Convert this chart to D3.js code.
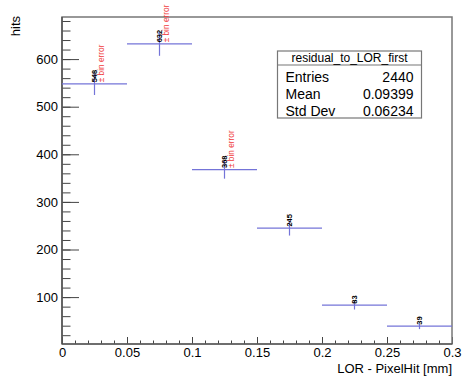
<!DOCTYPE html>
<html>
<head>
<meta charset="utf-8">
<script src="https://cdn.jsdelivr.net/npm/d3@7"></script>
<style>
  body { margin: 0; background: #fff; }
  svg { font-family: "Liberation Sans", Arial, sans-serif; }
</style>
</head>
<body>
<div id="chart"></div>
<script>
// histogram data
const binEdges = [0, 0.05, 0.1, 0.15, 0.2, 0.25, 0.3];
const counts = [548, 632, 368, 245, 83, 39];
const errors = [23.4, 25.1, 19.2, 15.7, 9.1, 6.2];
const showErrLabel = [true, true, true, false, false, false];

const xMajor = [0, 0.05, 0.1, 0.15, 0.2, 0.25, 0.3];
const yMajor = [100, 200, 300, 400, 500, 600];

const statsTitle = "residual_to_LOR_first";
const statsRows = [["Entries", "2440"], ["Mean", "0.09399"], ["Std Dev", "0.06234"]];

const W = 474, H = 384;
const margin = {top: 17, right: 22, bottom: 40, left: 62};
const width = W - margin.left - margin.right;
const height = H - margin.top - margin.bottom;

const svg = d3.select("#chart").append("svg")
    .attr("width", W)
    .attr("height", H);

const g = svg.append("g")
    .attr("transform", "translate(" + margin.left + "," + margin.top + ")");

const x = d3.scaleLinear().domain([0, 0.3]).range([0, width]);
const y = d3.scaleLinear().domain([1.5, 688.4]).range([height, 0]);

// minor ticks
const xMinor = d3.range(0, 0.3001, 0.01).map(v => +v.toFixed(3));
const yMinor = d3.range(20, 688, 20);

g.append("g")
    .attr("transform", "translate(0," + height + ")")
    .call(d3.axisBottom(x).tickValues(xMinor).tickSize(-3.5).tickFormat(""))
    .call(a => a.select(".domain").remove())
    .selectAll("line").attr("stroke", "#444");

g.append("g")
    .call(d3.axisLeft(y).tickValues(yMinor).tickSize(-8.5).tickFormat(""))
    .call(a => a.select(".domain").remove())
    .selectAll("line").attr("stroke", "#444");

// major ticks + labels
const xAxis = g.append("g")
    .attr("transform", "translate(0," + height + ")")
    .call(d3.axisBottom(x).tickValues(xMajor).tickSize(-7).tickPadding(4)
        .tickFormat(d => d === 0 ? "0" : String(d)));
xAxis.select(".domain").remove();
xAxis.selectAll("line").attr("stroke", "#444");
xAxis.selectAll("text").attr("font-size", 13).attr("fill", "#000")
    .attr("font-family", "Liberation Sans, Arial, sans-serif");

const yAxis = g.append("g")
    .call(d3.axisLeft(y).tickValues(yMajor).tickSize(-17).tickPadding(4));
yAxis.select(".domain").remove();
yAxis.selectAll("line").attr("stroke", "#444");
yAxis.selectAll("text").attr("font-size", 13).attr("fill", "#000")
    .attr("font-family", "Liberation Sans, Arial, sans-serif");

// frame
g.append("rect")
    .attr("x", 0).attr("y", 0)
    .attr("width", width).attr("height", height)
    .attr("fill", "none")
    .attr("stroke", "#777")
    .attr("stroke-width", 1.5);
g.append("line")
    .attr("x1", 0).attr("x2", 0).attr("y1", 0).attr("y2", height)
    .attr("stroke", "#444").attr("stroke-width", 1.2);
g.append("line")
    .attr("x1", 0).attr("x2", width).attr("y1", height).attr("y2", height)
    .attr("stroke", "#444").attr("stroke-width", 1.2);

// bins
const bins = counts.map((c, i) => ({
    lo: binEdges[i], hi: binEdges[i + 1], c: c, e: errors[i], lab: showErrLabel[i]
}));

const lineColor = "#7474d8";

g.selectAll(".hbar").data(bins).enter().append("line")
    .attr("class", "hbar")
    .attr("x1", d => x(d.lo)).attr("x2", d => x(d.hi))
    .attr("y1", d => y(d.c)).attr("y2", d => y(d.c))
    .attr("stroke", lineColor).attr("stroke-width", 1.2);

g.selectAll(".ebar").data(bins).enter().append("line")
    .attr("class", "ebar")
    .attr("x1", d => x((d.lo + d.hi) / 2)).attr("x2", d => x((d.lo + d.hi) / 2))
    .attr("y1", d => y(d.c - d.e)).attr("y2", d => y(d.c + d.e))
    .attr("stroke", lineColor).attr("stroke-width", 1.2);

// value labels, rotated
g.selectAll(".val").data(bins).enter().append("text")
    .attr("class", "val")
    .attr("transform", d => "translate(" + (x((d.lo + d.hi) / 2) + 2.7) + "," + (y(d.c) - 1.5) + ") rotate(-90)")
    .attr("font-size", 7.5)
    .attr("font-weight", "bold")
    .attr("fill", "#000")
    .text(d => d.c);

g.selectAll(".errlab").data(bins.filter(d => d.lab)).enter().append("text")
    .attr("class", "errlab")
    .attr("transform", d => "translate(" + (x((d.lo + d.hi) / 2) + 9.8) + "," + (y(d.c) - 1.5) + ") rotate(-90)")
    .attr("font-size", 8.3)
    .attr("fill", "#f03c3c")
    .text("\u00b1 bin error");

// axis titles
svg.append("text")
    .attr("transform", "translate(20," + (margin.top - 1) + ") rotate(-90)")
    .attr("text-anchor", "end")
    .attr("font-size", 13)
    .text("hits");

svg.append("text")
    .attr("x", margin.left + width)
    .attr("y", 373)
    .attr("text-anchor", "end")
    .attr("font-size", 13)
    .text("LOR - PixelHit [mm]");

// stats box
const box = {x: 277.5, y: 51, w: 144, h: 67, head: 14};
const sb = svg.append("g");
sb.append("rect")
    .attr("x", box.x).attr("y", box.y).attr("width", box.w).attr("height", box.h)
    .attr("fill", "#fff").attr("stroke", "#777").attr("stroke-width", 1.2);
sb.append("line")
    .attr("x1", box.x).attr("x2", box.x + box.w)
    .attr("y1", box.y + box.head).attr("y2", box.y + box.head)
    .attr("stroke", "#777").attr("stroke-width", 1.2);
sb.append("text")
    .attr("x", box.x + box.w / 2).attr("y", box.y + 11)
    .attr("text-anchor", "middle")
    .attr("font-size", 12)
    .text(statsTitle);
statsRows.forEach((r, i) => {
    const yy = box.y + 30.5 + i * 17;
    sb.append("text").attr("x", box.x + 8).attr("y", yy)
        .attr("font-size", 14).text(r[0]);
    sb.append("text").attr("x", box.x + box.w - 8).attr("y", yy)
        .attr("text-anchor", "end").attr("font-size", 14).text(r[1]);
});
</script>
</body>
</html>
